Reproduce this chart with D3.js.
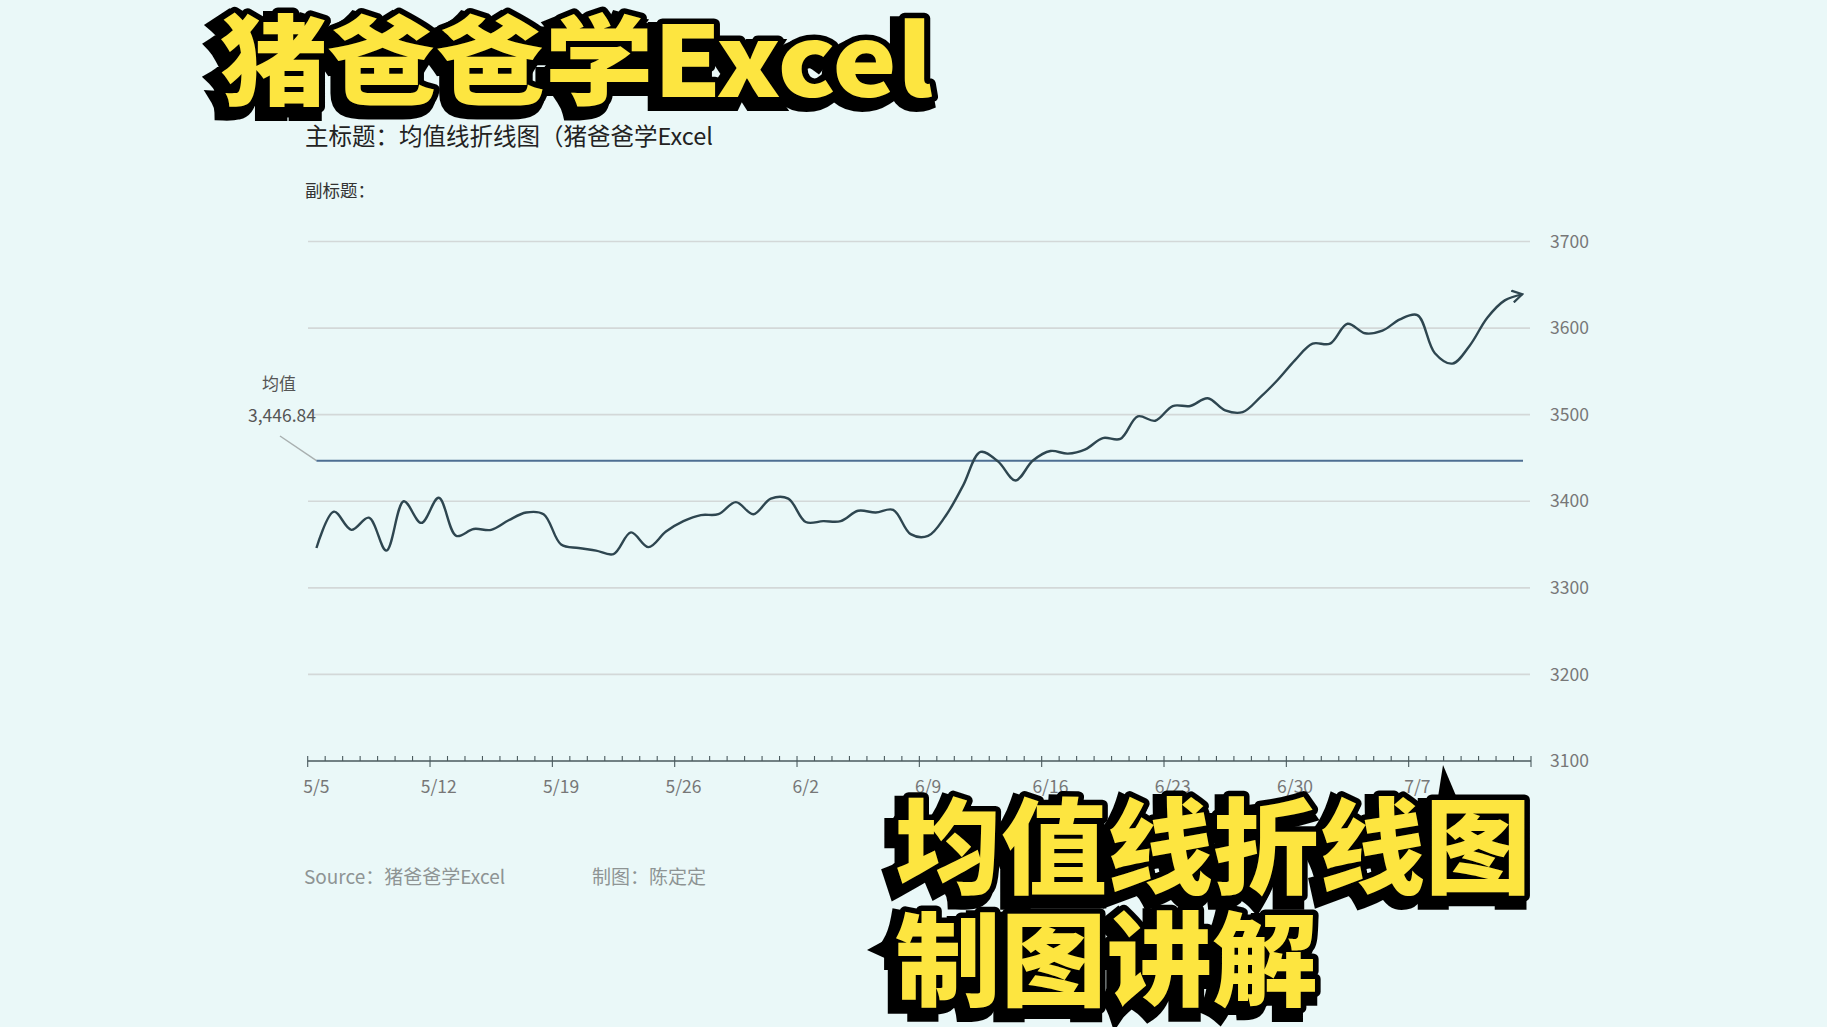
<!DOCTYPE html>
<html><head><meta charset="utf-8">
<script src="https://cdn.jsdelivr.net/npm/d3@7/dist/d3.min.js"></script>
<style>
html,body{margin:0;padding:0;background:#EAF8F8;}
svg{display:block;}
</style></head>
<body>
<svg id="chart" width="1827" height="1027"></svg>
<script>
// ---- data ----
const startDate = "2023-05-05";
const values = [
 3346,3388,3367,3381,3343,3400,3375,3404,3360,3368,
 3367,3378,3387,3385,3350,3346,3343,3339,3364,3347,
 3365,3377,3384,3385,3399,3385,3403,3403,3376,3377,
 3377,3389,3387,3390,3362,3360,3383,3418,3457,3446,
 3424,3447,3458,3455,3460,3473,3472,3498,3493,3510,
 3510,3519,3505,3503,3520,3540,3563,3582,3582,3605,
 3594,3597,3610,3615,3571,3559,3580,3612,3632,3639
];
const meanValue = 3446.84;
const yTicks = [3100,3200,3300,3400,3500,3600,3700];
const xTickLabels = ["5/5","5/12","5/19","5/26","6/2","6/9","6/16","6/23","6/30","7/7"];
const titleText = "主标题：均值线折线图（猪爸爸学Excel";
const subtitleText = "副标题：";
const sourceText = "Source：猪爸爸学Excel";
const authorText = "制图：陈定定";
const meanLabel = "均值";
const bannerTop = "猪爸爸学Excel";
const bannerBottom1 = "均值线折线图";
const bannerBottom2 = "制图讲解";

// ---- setup ----
const svg = d3.select("#chart");
const W = 1827, H = 1027;
svg.append("rect").attr("width",W).attr("height",H).attr("fill","#EAF8F8");

const parse = d3.timeParse("%Y-%m-%d");
const d0 = parse(startDate);
const dates = values.map((v,i)=>d3.timeDay.offset(d0,i));
const dEnd = d3.timeDay.offset(d0, values.length);

const x = d3.scaleTime().domain([d0, dEnd]).range([307.7, 1531]);
const y = d3.scaleLinear().domain([3100,3700]).range([761, 241.5]);
const mid = d => d3.timeHour.offset(d, 12);

const CJK = "'Noto Sans CJK SC','Noto Sans',sans-serif";

// gridlines
svg.append("g").selectAll("line").data(yTicks.filter(t=>t>3100)).join("line")
  .attr("x1",308).attr("x2",1530)
  .attr("y1",d=>y(d)).attr("y2",d=>y(d))
  .attr("stroke","#D3D8D8").attr("stroke-width",1.6);

// y labels
svg.append("g").selectAll("text").data(yTicks).join("text")
  .attr("x",1550).attr("y",d=>y(d)).attr("dy","0.35em")
  .attr("font-family",CJK).attr("font-size",17.5).attr("fill","#777")
  .text(d=>d);

// x axis
const axisG = svg.append("g").attr("transform","translate(0,761)");
axisG.append("line").attr("x1",x(d0)).attr("x2",x(dEnd)).attr("stroke","#4a5a5e").attr("stroke-width",1.3);
const allDays = d3.timeDay.range(d0, d3.timeDay.offset(dEnd,1));
axisG.selectAll("line.minor").data(allDays).join("line").attr("class","minor")
  .attr("x1",d=>x(d)).attr("x2",d=>x(d))
  .attr("y1",-5).attr("y2",d=> (d3.timeDay.count(d0,d)%7===0 || +d===+dEnd) ? 6 : 0)
  .attr("stroke","#4a5a5e").attr("stroke-width",1.1);
const weekly = xTickLabels.map((lab,i)=>d3.timeDay.offset(d0,i*7));
axisG.selectAll("text").data(weekly).join("text")
  .attr("x",(d)=>x(mid(d))).attr("y",32).attr("text-anchor","middle")
  .attr("font-family",CJK).attr("font-size",17.5).attr("fill","#777")
  .text((d,i)=>xTickLabels[i]);

// mean line + label
const my = y(meanValue);
svg.append("line").attr("x1",280).attr("y1",436).attr("x2",x(mid(d0))).attr("y2",my)
  .attr("stroke","#A9B0B0").attr("stroke-width",1.5);
svg.append("line").attr("x1",x(mid(d0))).attr("x2",1523).attr("y1",my).attr("y2",my)
  .attr("stroke","#4E6F93").attr("stroke-width",2);
svg.append("text").attr("x",279).attr("y",384).attr("dy","0.35em").attr("text-anchor","middle")
  .attr("font-family",CJK).attr("font-size",17).attr("fill","#555").text(meanLabel);
svg.append("text").attr("x",282).attr("y",416).attr("dy","0.35em").attr("text-anchor","middle")
  .attr("font-family",CJK).attr("font-size",17.5).attr("fill","#555").text(d3.format(",.2f")(meanValue));

// data line
svg.append("defs").append("marker").attr("id","arr")
  .attr("viewBox","0 0 14 14").attr("refX",12).attr("refY",7)
  .attr("markerWidth",14).attr("markerHeight",14).attr("markerUnits","userSpaceOnUse")
  .attr("orient","auto")
  .append("path").attr("d","M2,1 L12,7 L2,13").attr("fill","none")
  .attr("stroke","#2E4650").attr("stroke-width",2.2);
const line = d3.line().x((v,i)=>x(mid(dates[i]))).y(v=>y(v)).curve(d3.curveCatmullRom.alpha(0.5));
svg.append("path").attr("d",line(values)).attr("fill","none")
  .attr("stroke","#2E4650").attr("stroke-width",2.4).attr("marker-end","url(#arr)");

// titles
svg.append("text").attr("x",305).attr("y",137).attr("dy","0.35em")
  .attr("font-family",CJK).attr("font-size",23.5).attr("fill","#222").text(titleText);
svg.append("text").attr("x",305).attr("y",191).attr("dy","0.35em")
  .attr("font-family",CJK).attr("font-size",17.5).attr("fill","#333").text(subtitleText);

// footer
svg.append("text").attr("x",304).attr("y",877).attr("dy","0.35em")
  .attr("font-family",CJK).attr("font-size",19).attr("fill","#8E9494").text(sourceText);
svg.append("text").attr("x",592).attr("y",877).attr("dy","0.35em")
  .attr("font-family",CJK).attr("font-size",19).attr("fill","#8E9494").text(authorText);

// banners
function banner(txt, bx, by, fs, len){
  const g = svg.append("g");
  g.append("text").attr("x",bx-6).attr("y",by+6).attr("font-family",CJK).attr("font-weight",900)
    .attr("font-size",fs).attr("textLength",len).attr("lengthAdjust","spacingAndGlyphs")
    .attr("fill","#000").attr("stroke","#000").attr("stroke-width",16).attr("stroke-linejoin","miter")
    .text(txt);
  g.append("text").attr("x",bx).attr("y",by).attr("font-family",CJK).attr("font-weight",900)
    .attr("font-size",fs).attr("textLength",len).attr("lengthAdjust","spacingAndGlyphs")
    .attr("fill","#FDE540").attr("stroke","#000").attr("stroke-width",11).attr("stroke-linejoin","round")
    .attr("paint-order","stroke").text(txt);
}
// decorative spikes
svg.append("path").attr("d","M1443,765 L1436,810 L1462,810 Z").attr("fill","#000");
svg.append("path").attr("d","M867,950 L900,932 L900,965 Z").attr("fill","#000");

banner(bannerTop, 219, 97, 98, 714);
banner(bannerBottom1, 895, 886, 104, 636);
banner(bannerBottom2, 895, 998, 102, 423);
</script>
</body></html>
